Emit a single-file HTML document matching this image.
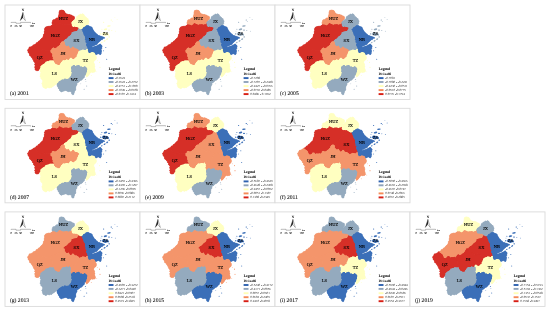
<!DOCTYPE html>
<html lang="en"><head><meta charset="utf-8"><title>IS Coeffi maps 2001-2019</title>
<style>html,body{margin:0;padding:0;background:#fff}svg{display:block}text{font-family:"Liberation Serif","Times New Roman",serif}</style></head><body>
<svg width="550" height="313" viewBox="0 0 5500 3130" text-rendering="geometricPrecision">
<rect width="5500" height="3130" fill="#fff"/>
<defs>
<path id="rHUZ" d="M525,242 521,236.9 516,232 520.1,224.4 515,217 520.8,214.8 524.2,209.5 524,205 524.8,197.5 530.7,194.8 538.7,195.5 544,192 552.7,189.6 554.1,183.4 558,178.6 565,176 573.1,176.3 580.4,169.6 580.3,165.6 582,159 582,152.8 586.3,149 585,144.8 588,138 586.7,132.6 590.8,126.5 586,120 589.4,114.3 590.5,109.3 593,103 600.8,102 606,96 612.5,98.4 620,97 623.4,100.7 630,102.3 637,101 637.1,106.3 640.3,110.1 646,117 645.7,122.5 651.1,127.9 658,131 662.7,136.9 666.5,140.7 672,139 677.8,142.2 682.2,143.1 691,142 695.8,142.7 703.7,146 711,148 719,152.4 723.3,157.7 732,159 737.3,161.8 742.7,166.2 740.8,171.2 741,176 741,184.8 738.7,192.9 733,195 727.4,198.2 726.7,203.3 724.9,207.7 718,211 715.7,216.1 712,222 712.2,228.6 708,233 704.1,238.5 698.7,240.8 695,239 691,241.8 685.5,245.6 677,245 671.2,240.7 665.5,240.6 660.3,238.3 653,242 648.4,240.1 641.1,242.5 635.3,241.6 632,246 625.5,246.5 619.8,240 615.6,236.5 611,238 604.7,235.8 598,230 589.3,229.5 583.8,232.1 584.9,238.2 578,243 573.3,244.5 569.5,249.9 559.4,252.6 553,247 544.8,243.8 536.6,243.5 529.3,242.8Z"/>
<path id="rJX" d="M718,211 722.6,206.4 728.7,205.4 732,204 740.3,201.1 741.5,196.5 745,192 748.9,191.7 753.5,188.4 758.1,184.9 757,180 759.1,174.5 760.5,168.1 764,161.9 774,163 773.6,157.2 775.4,153.5 783,149 789.9,147 796.1,143.4 796,138 803.3,138.1 812.8,140.8 818.3,137.6 824,134 828.6,137.4 832.9,139.1 836,145 839.4,147.2 842.3,151.8 837.4,157.5 839,162 845.3,161.3 847.5,165 854,163.5 857,167 859.7,171.2 863.9,175.4 869,180 873.2,183.9 878.3,184.9 876.5,190.4 882,196 884.1,200.1 881.9,205.8 887.3,211.8 885,217 882.4,224.7 884.4,230.5 880,237 876.6,242.8 875.1,248.2 869,250 864.4,250.7 859.6,252.8 851.9,256.7 849,265 842.2,265.5 835,268.6 830.3,270.6 828,278 823.1,283.2 818.1,288.8 813,290 806.3,290.9 801.9,292.5 797,287 789.3,285.1 782,282 780.5,274.8 776,273 769.7,271.8 766,266 759.8,267.3 753.9,269.4 750,266 744.4,263.2 739.8,266.9 735,266 728,266.3 722.9,263.4 720,262 717.7,257.9 715.9,253.9 711,248 714.2,240.5 712,235.2 708,233 712.2,228.6 712,222 715.7,216.1Z"/>
<path id="rHGZ" d="M339,446 344.9,440.4 351,438 359.3,433.5 359.2,425 365.9,423.5 372,422 378.8,417.8 380.1,409.5 388.3,407.3 393,405 397.5,397.1 402,392.8 407.5,387.1 414,380 419.1,376.5 425.8,371.2 429.3,357.6 432,350 430.9,342.3 437.9,337.3 440.9,330.7 438,325 442,321.1 440,315.1 441.2,307.5 445,300 443,293.5 441.6,289.6 441,284 446.3,282 450,276.7 449,268 454.5,269.4 459.7,269.2 463,263.2 470,263 477,261.6 478.4,256.5 484.4,261.9 495,259 500.2,259.3 506.7,256.5 507.8,251.5 515,250 519,245.7 525,242 529.3,242.8 536.6,243.5 544.8,243.8 553,247 559.4,252.6 569.5,249.9 573.3,244.5 578,243 584.9,238.2 583.8,232.1 589.3,229.5 598,230 604.7,235.8 611,238 615.6,236.5 619.8,240 625.5,246.5 632,246 635.3,241.6 641.1,242.5 648.4,240.1 653,242 660.3,238.3 665.5,240.6 671.2,240.7 677,245 685.5,245.6 691,241.8 695,239 698.7,240.8 704.1,238.5 708,233 712,235.2 714.2,240.5 711,248 715.9,253.9 717.7,257.9 720,262 722.9,263.4 728,266.3 735,266 739.8,266.9 744.4,263.2 750,266 753.9,269.4 759.8,267.3 766,266 769.7,271.8 776,273 780.5,274.8 782,282 778,286.6 776.8,292 772,298 772,303.2 768.4,306.9 760.5,307.2 755,308 752,312.5 744.8,313 739.7,312.3 735,313 729.1,317.8 722.4,319.1 714,319 714.3,327.3 714.2,332.2 710,336 706.5,341.1 705,348.2 697,352 692.4,356.5 684.7,360.3 681.2,362.5 681,369 674.3,370.1 671.7,377.7 664,381 660.9,387.6 654.3,388.3 649.8,388.1 647,394 641,397.5 635,404 632,412 627.2,409.5 619,412 614,413.8 608,416.4 606,425 603.2,427.3 599.1,431.6 601,438.3 594,446 587.5,449.6 586.3,455.5 580.1,459.3 577,462 571.2,464.6 567,463.5 564.1,473.8 556,475 551.9,478.7 549.1,481.4 546.1,479.6 540,479 535.5,474.2 530,473.1 527,471 524.5,476.4 516.2,479.7 514.6,487.7 519,491 514.1,490.6 506.9,494.2 501.9,499.9 503,506 498.5,503.6 494.3,498.9 489,496 482,501.6 476.7,499.9 472,501 467.2,498.5 463.6,497.5 460.4,500.4 455,505 449.6,500.8 444.6,497.8 440.8,493.8 439,488 433,490.6 428,488.8 422,492 417.2,496.6 414.4,503.1 410,505 402.5,509.6 398.8,510.4 393,509 386,507.6 382.3,500.2 381,492 376.4,488.2 374.6,478.6 372.3,474.5 368,471 362,466.9 358.7,462.9 351,459 345,455.1 341,453.3Z"/>
<path id="rSX" d="M632,412 635,404 641,397.5 647,394 649.8,388.1 654.3,388.3 660.9,387.6 664,381 671.7,377.7 674.3,370.1 681,369 681.2,362.5 684.7,360.3 692.4,356.5 697,352 705,348.2 706.5,341.1 710,336 714.2,332.2 714.3,327.3 714,319 722.4,319.1 729.1,317.8 735,313 739.7,312.3 744.8,313 752,312.5 755,308 760.5,307.2 768.4,306.9 772,303.2 772,298 776.8,292 778,286.6 782,282 789.3,285.1 797,287 801.9,292.5 806.3,290.9 813,290 814.4,295.8 823.1,299.2 820.5,303.5 822,311 824.7,315.5 828.7,322.8 832,331 831.1,336.5 834.7,342.1 836.1,350.1 843,352 842.1,357.6 848.5,364.3 849.4,368.9 846,373 849.7,379.1 849.5,383.8 847.9,390.5 843,393 852.5,396.9 853.7,403.9 853.8,411.1 851,415 853.7,421.8 862.2,423.7 864.3,431.6 859,440 858.6,446.7 861.8,453.9 864.5,461.7 871,464 868.9,469.5 870.5,473 874.3,479.8 873,487 865.6,488 860,490 857.6,496.9 847.4,499.2 840.7,495.8 835,494 826.7,495.5 822.1,491.4 818.6,496.7 810,500 804.1,503.8 796.7,500.7 794.3,504.3 790,510 787.8,502.7 784,499 778.8,493.1 771.7,489.4 768,487 764.3,483.3 759.6,482.8 752,483 744.5,480 739.4,478.1 739,470 733.6,467.2 727,462 723.7,464 719.6,467.8 715.1,473.1 710,478 705.2,481.2 701,479.1 697,476.1 693,472 690.8,467.1 688,461.6 683.2,455.6 681,452 676.3,456.6 672,459.8 665,460 659,456.2 654.3,456.6 653,448 649.4,443.4 644.9,442.4 643.3,438.3 645,432 644.5,424.6 642.5,415.5 638.2,413Z"/>
<path id="rNB" d="M813,290 818.1,288.8 823.1,283.2 828,278 830.3,270.6 835,268.6 842.2,265.5 849,265 851.9,256.7 859.6,252.8 864.4,250.7 869,250 874.2,251.1 877.7,253.8 885,253 891.4,258.3 891.5,264.2 896.1,263.2 904,264 913,267.7 918.4,271.9 921.5,278.8 920,285 926.5,290.4 928.6,295 930,300.1 935,304 936,308.1 937.3,315 942,315.5 948,321 954.5,326.3 958.4,330.5 960,337 965.1,339.9 969.5,339.4 973.2,345.7 977,352 984.5,352.7 990,351.1 994.1,357.6 998,360 1002,358.1 1007.7,361.7 1019,361.6 1023,368 1027.7,367 1034.9,370.5 1039.3,373.5 1046,375 1040,378.5 1036.2,379.4 1026.9,380.2 1023,390 1018.4,394.3 1010.3,392.1 1007.1,399.7 1002,403 998,404.8 994.4,411.4 988.5,413.1 986,416 984.2,420.6 979.2,423.7 973,428 970.9,432.2 969.6,438.5 961.8,441.9 955,441 951.7,446.5 944.5,449.7 938.4,451.4 935,453 930.1,458.8 924.5,457 918,462 914,469 921.1,469.9 926,469 931.3,467 936.5,464.1 942.5,462.7 946,461 954,458.1 961.8,458.7 966,452 974.7,450.9 979,447 986.7,445 992,440 997.4,436.7 1003,437 1002.9,444 1010,448 1017.2,453.7 1018.5,460.5 1015.5,465.6 1014,474 1014.9,481.1 1010.7,487.4 1007.7,493.3 1010,499 1012.5,506 1010.7,514.2 1009,523 1009.4,530.9 1004.8,536.6 1004,542 996,544 990.3,538.2 989,532 982,534 974,535 968.7,538.7 963,539 960.8,544 953,545 949.2,541.1 946,533 941.6,528.9 942.3,524.5 936,524 929.1,520.7 924.3,520.4 918,518 913.6,520.1 908.2,521.5 902,525 896.6,529.7 890.4,526.6 885,528 880.2,521 879.4,515.7 876,510 873.9,503.3 874.8,496.9 875.8,491.2 873,487 874.3,479.8 870.5,473 868.9,469.5 871,464 864.5,461.7 861.8,453.9 858.6,446.7 859,440 864.3,431.6 862.2,423.7 853.7,421.8 851,415 853.8,411.1 853.7,403.9 852.5,396.9 843,393 847.9,390.5 849.5,383.8 849.7,379.1 846,373 849.4,368.9 848.5,364.3 842.1,357.6 843,352 836.1,350.1 834.7,342.1 831.1,336.5 832,331 828.7,322.8 824.7,315.5 822,311 820.5,303.5 823.1,299.2 814.4,295.8Z"/>
<path id="rQZ" d="M395,686 389.5,690 389,695.1 382,696 381.5,702.3 376.4,704.2 370.2,702.9 362,703 356.2,699.7 351.8,698.7 347.4,691.8 348,684 348.8,676 342.7,668.8 346.9,661.5 352,655 345.3,648.5 343.5,639 347.8,633 346,625 342,619.9 336.9,615.3 330.6,605.3 335,596 327.3,593 321.8,588.9 321.6,583.5 322,575 315.3,575 311.4,571.4 311.1,565.8 306,559 301,557.9 293.8,553.7 292.8,546.9 293,542 289.7,536 288.9,529.3 281,525 278.2,521.3 279.3,515.4 276.9,511 275,505 272.7,499.1 274.3,495 278.9,490.8 285,484 286.2,475.1 289.7,470.2 296.8,464.2 306,467 311.9,461.5 317.1,462.2 322,455 328.7,453.1 330.2,444.1 334.4,447.9 339,446 341,453.3 345,455.1 351,459 358.7,462.9 362,466.9 368,471 372.3,474.5 374.6,478.6 376.4,488.2 381,492 382.3,500.2 386,507.6 393,509 398.8,510.4 402.5,509.6 410,505 414.4,503.1 417.2,496.6 422,492 428,488.8 433,490.6 439,488 440.8,493.8 444.6,497.8 449.6,500.8 455,505 460.4,500.4 463.6,497.5 467.2,498.5 472,501 476.7,499.9 482,501.6 489,496 494.3,498.9 498.5,503.6 503,506 503.2,510.6 502.5,515.7 506.2,523.3 511,525 515.9,530.9 519,538 523,541 520.2,545.2 519.1,551.4 522,557.9 519,562 523.9,565.6 527.1,574.3 524.2,577.6 523,583 530.1,584.6 532.1,590.6 532,599.2 536,604 531.9,603.5 526,602 520.1,601.8 513,602.6 505,602 499,601.2 495.3,601.2 490,604 485.2,604.9 483.3,610.9 475.4,607.9 468,613 463.3,614.6 458.2,612.7 451.5,616.6 451,625 442.5,628.4 442.2,634.6 438.3,635.7 431,637 427.2,639.4 423,642.2 420.2,646.7 414,650 409.2,654.6 404,657.2 402,664 400.9,671.9 404.5,675.3 399.1,680.6Z"/>
<path id="rJH" d="M503,506 501.9,499.9 506.9,494.2 514.1,490.6 519,491 514.6,487.7 516.2,479.7 524.5,476.4 527,471 530,473.1 535.5,474.2 540,479 546.1,479.6 549.1,481.4 551.9,478.7 556,475 564.1,473.8 567,463.5 571.2,464.6 577,462 580.1,459.3 586.3,455.5 587.5,449.6 594,446 601,438.3 599.1,431.6 603.2,427.3 606,425 608,416.4 614,413.8 619,412 627.2,409.5 632,412 638.2,413 642.5,415.5 644.5,424.6 645,432 643.3,438.3 644.9,442.4 649.4,443.4 653,448 654.3,456.6 659,456.2 665,460 672,459.8 676.3,456.6 681,452 683.2,455.6 688,461.6 690.8,467.1 693,472 697,476.1 701,479.1 705.2,481.2 710,478 715.1,473.1 719.6,467.8 723.7,464 727,462 733.6,467.2 739,470 739.4,478.1 744.5,480 752,483 759.6,482.8 764.3,483.3 768,487 771.7,489.4 778.8,493.1 784,499 787.8,502.7 790,510 783.3,510.3 780,517.9 777.7,523 777,529 773.2,535.7 768.3,541.4 773.6,544.7 773,550 768.3,549.1 762.7,553.5 766,560.6 760,570 753.7,571.2 750.2,574.8 741.8,580.2 743,587 735.6,587.6 733.9,592.2 729.8,586.3 723,587 720.2,584.1 714,582.2 710.4,575.4 706,574 700.1,578 695.8,580 694,586 689.1,588.9 687,595.4 681,598 676,596.8 667.6,593 659.1,593.1 656,598 648.2,597.6 642.5,601 635,600 628.7,598.4 621.9,603.7 619,612 615.7,613.9 609.7,615.9 606,623.8 606,629 602.4,631.1 597.8,633.2 598.2,638.6 594,644 590.9,648.4 583.1,646.7 578.2,648.4 573,649 571.4,644.5 566.2,639.3 560.1,641.1 556,641 553.1,635.8 546.7,632.3 544,624 539.6,622.9 536.3,616.2 534.1,609.5 536,604 532,599.2 532.1,590.6 530.1,584.6 523,583 524.2,577.6 527.1,574.3 523.9,565.6 519,562 522,557.9 519.1,551.4 520.2,545.2 523,541 519,538 515.9,530.9 511,525 506.2,523.3 502.5,515.7 503.2,510.6Z"/>
<path id="rTZ" d="M790,510 794.3,504.3 796.7,500.7 804.1,503.8 810,500 818.6,496.7 822.1,491.4 826.7,495.5 835,494 840.7,495.8 847.4,499.2 857.6,496.9 860,490 865.6,488 873,487 875.8,491.2 874.8,496.9 873.9,503.3 876,510 879.4,515.7 880.2,521 885,528 890.4,526.6 896.6,529.7 902,525 908.2,521.5 913.6,520.1 918,518 924.3,520.4 929.1,520.7 936,524 942.3,524.5 941.6,528.9 946,533 949.2,541.1 953,545 951.3,549.9 953.1,554 957,559 960.1,566 960.4,573.6 960,578 960.3,582.6 956.7,588.2 955.4,594.7 950,597 943.3,598.4 941.1,602 940.2,607.3 936,611 934,614.9 934.4,620.1 931,626 938.6,630.4 939.3,634.5 941,640 944.4,647.4 939.6,653.7 941.9,658.6 947,659 943.7,666.2 940.3,672.8 944.8,676.7 944,683 945.6,686.5 949,691.1 948.4,695.9 950,702 952.1,708.4 949.2,711.6 946.3,715.2 942,718 934.8,719.1 929.7,719 924,721 916.5,718.4 910,716 908.2,721.2 901.1,723 898,730 892,733.3 889.7,742.3 884,748 879.5,754.3 876,759.4 870,763 864.2,766.5 860,767 861.5,762.4 856.8,756.2 854.6,753.2 853,748 854.5,740.6 859,733.1 860,728 860.4,721.7 861.8,718.4 866.4,714.7 867,708 866.7,704.1 865.1,699.1 868.1,694.4 870,686 866.7,679.6 861.5,678 860.9,671.5 858,668 851.2,664.7 846.5,663 840,659 838.2,662.9 832.2,667.9 824.1,669.7 819,667 813.9,664.3 811.6,659.8 806.6,665.4 798,663 798.2,656.3 791.4,652.3 785,646 777.9,647.9 773,651.3 766.9,650.3 765,647 764.4,651.4 761.6,655.6 755.8,657.6 748,658 745.4,650 738,648.2 733.2,646.8 727,651 722.7,654.1 719.2,659.6 715,660 711.6,664.4 709.4,667.8 706.7,671.3 707,679 707.7,674.2 708,668 708.9,662.9 707.2,656.2 703.8,653.6 702,647 698.8,641.7 700.9,635.4 704.6,629.8 706,626 703.5,622.7 701.4,618.2 704,610.6 705,605 701.1,600.6 696.7,600.7 691.7,591.8 694,586 695.8,580 700.1,578 706,574 710.4,575.4 714,582.2 720.2,584.1 723,587 729.8,586.3 733.9,592.2 735.6,587.6 743,587 741.8,580.2 750.2,574.8 753.7,571.2 760,570 766,560.6 762.7,553.5 768.3,549.1 773,550 773.6,544.7 768.3,541.4 773.2,535.7 777,529 777.7,523 780,517.9 783.3,510.3Z"/>
<path id="rLS" d="M395,686 395.8,690.6 394.4,695.5 398.8,700.9 403,704 399.2,708.6 400.9,716.7 405.6,721.8 408,725 403.8,729.1 403.3,732.9 401.7,737 402,745 403.4,752.4 397.8,754.7 396,759 398.5,764.9 404,766.3 406,775 405.1,782.9 412.7,787.6 416,789.2 418,795 424.6,802.6 422.2,809.6 425.3,815.8 422,820 421.1,824.5 415.4,828.4 416.3,836.5 420,841 422.6,846.7 421,851.5 424.3,855.2 424,863 429.5,867.7 428.6,873.1 432.7,872.1 440,874 443.7,879 452.5,882.4 459,882.9 465,878 468,873.2 476.7,870 481.6,875.1 491,876 495.9,875.3 501.8,871.3 514.3,872.9 520,865 525.9,858.5 537.6,856.6 540,851.7 545,847 548.4,841.1 557.7,841 560.7,836.4 569,833 570.7,828.4 576.9,824 584,820 585.4,810.3 592.5,808.4 596.7,805.6 601,804 607,801.5 612.6,795.8 617.1,790.4 622,791 625.5,793.6 632.8,795.1 636.9,785.3 647,784 653.4,784.4 657.1,785.5 666.3,788.8 672,786 677,785.7 681.4,785.7 683.3,782.2 688,779 692.3,775.5 693.2,770.2 697.5,768.5 701,762 705.3,756.7 707,753.2 707.8,747 713,741 710.7,735.2 715.5,729.3 717,721 712.9,718.6 709.5,711.6 709.2,705.6 713,700 711.7,691.5 709.1,685.4 707,679 707.7,674.2 708,668 708.9,662.9 707.2,656.2 703.8,653.6 702,647 698.8,641.7 700.9,635.4 704.6,629.8 706,626 703.5,622.7 701.4,618.2 704,610.6 705,605 701.1,600.6 696.7,600.7 691.7,591.8 694,586 689.1,588.9 687,595.4 681,598 676,596.8 667.6,593 659.1,593.1 656,598 648.2,597.6 642.5,601 635,600 628.7,598.4 621.9,603.7 619,612 615.7,613.9 609.7,615.9 606,623.8 606,629 602.4,631.1 597.8,633.2 598.2,638.6 594,644 590.9,648.4 583.1,646.7 578.2,648.4 573,649 571.4,644.5 566.2,639.3 560.1,641.1 556,641 553.1,635.8 546.7,632.3 544,624 539.6,622.9 536.3,616.2 534.1,609.5 536,604 531.9,603.5 526,602 520.1,601.8 513,602.6 505,602 499,601.2 495.3,601.2 490,604 485.2,604.9 483.3,610.9 475.4,607.9 468,613 463.3,614.6 458.2,612.7 451.5,616.6 451,625 442.5,628.4 442.2,634.6 438.3,635.7 431,637 427.2,639.4 423,642.2 420.2,646.7 414,650 409.2,654.6 404,657.2 402,664 400.9,671.9 404.5,675.3 399.1,680.6Z"/>
<path id="rWZ" d="M707,679 706.7,671.3 709.4,667.8 711.6,664.4 715,660 719.2,659.6 722.7,654.1 727,651 733.2,646.8 738,648.2 745.4,650 748,658 755.8,657.6 761.6,655.6 764.4,651.4 765,647 766.9,650.3 773,651.3 777.9,647.9 785,646 791.4,652.3 798.2,656.3 798,663 806.6,665.4 811.6,659.8 813.9,664.3 819,667 824.1,669.7 832.2,667.9 838.2,662.9 840,659 846.5,663 851.2,664.7 858,668 860.9,671.5 861.5,678 866.7,679.6 870,686 868.1,694.4 865.1,699.1 866.7,704.1 867,708 866.4,714.7 861.8,718.4 860.4,721.7 860,728 859,733.1 854.5,740.6 853,748 846.4,749.2 840.6,754.8 841.5,762.8 840,768 839.2,773.4 834.8,775.8 828.5,778.3 825,786 822,790.3 814.7,792.8 812,799.5 805,800 800.4,802.9 795.4,805.1 792.1,810.1 785,818 777.8,821.6 767.5,826 766.3,830.7 766,838 766.4,844.4 763.2,849.9 756.8,856.9 756,864 753,873.9 753.4,882.3 754.5,888.2 754,894 752.9,899.7 744.8,904.1 741.8,908.7 742,915 738.8,925.4 736.2,931.6 737.6,938.6 734,942 726.7,940.9 721,943 714.2,937.4 714,929.4 711.6,922.1 714,918 711.5,914.9 704.9,915.1 699,909.9 694,910 688.2,913.5 678.7,913 669.4,909.9 661,904 654.1,901.9 647.9,903.2 639,905.6 628,910 620.1,910.8 614.6,915.9 605.4,912.9 598,908 594.6,903.5 590.8,899.7 591.3,890 584,884 578.5,879 579.5,872.8 573.7,862.6 568,858 569.8,852.4 568.8,844 566.8,837.9 569,833 570.7,828.4 576.9,824 584,820 585.4,810.3 592.5,808.4 596.7,805.6 601,804 607,801.5 612.6,795.8 617.1,790.4 622,791 625.5,793.6 632.8,795.1 636.9,785.3 647,784 653.4,784.4 657.1,785.5 666.3,788.8 672,786 677,785.7 681.4,785.7 683.3,782.2 688,779 692.3,775.5 693.2,770.2 697.5,768.5 701,762 705.3,756.7 707,753.2 707.8,747 713,741 710.7,735.2 715.5,729.3 717,721 712.9,718.6 709.5,711.6 709.2,705.6 713,700 711.7,691.5 709.1,685.4Z"/>
<g id="iZS">
<path d="M1012,336 1018.8,332.4 1022,324 1031.6,319.6 1038,320 1045.5,320.1 1055,323 1061.8,322.6 1072,328 1078.4,331 1086,336 1085.6,341.5 1089,346 1083.7,351.1 1078,354 1071.2,350.6 1062,352 1057.3,356.9 1050,358 1040.6,355.6 1035,354 1029.2,349 1024,349 1018.3,341.9Z"/>
<ellipse cx="1052" cy="290" rx="18" ry="9" transform="rotate(-12 1052 290)"/>
<ellipse cx="1087" cy="298" rx="10" ry="6"/>
<ellipse cx="1016" cy="290" rx="5" ry="5"/>
<ellipse cx="1115" cy="302" rx="6" ry="4"/>
<ellipse cx="1087" cy="257" rx="18" ry="7.5" transform="rotate(-8 1087 257)"/>
<ellipse cx="1033" cy="219" rx="6" ry="5"/>
<ellipse cx="1110" cy="198" rx="7" ry="5"/>
<ellipse cx="1120" cy="211" rx="5" ry="4"/>
<ellipse cx="1168" cy="194" rx="5" ry="4"/>
<ellipse cx="1146" cy="171" rx="4" ry="3"/>
<ellipse cx="1151" cy="309" rx="5" ry="4"/>
<ellipse cx="1004" cy="336" rx="6" ry="8"/>
<ellipse cx="1007" cy="309" rx="4" ry="4"/>
<ellipse cx="1089" cy="366" rx="8" ry="6"/>
<ellipse cx="1069" cy="388" rx="11" ry="7" transform="rotate(-35 1069 388)"/>
<ellipse cx="1043" cy="406" rx="11" ry="7" transform="rotate(-35 1043 406)"/>
<ellipse cx="1015" cy="422" rx="8" ry="5" transform="rotate(-30 1015 422)"/>
</g>
<g id="iNB">
<ellipse cx="1055" cy="472" rx="5" ry="5"/>
<ellipse cx="1032" cy="505" rx="4" ry="5"/>
<ellipse cx="1064" cy="589" rx="5" ry="5"/>
</g>
<g id="iTZ">
<ellipse cx="992" cy="620" rx="5" ry="6"/>
<ellipse cx="997" cy="671" rx="5" ry="6"/>
<ellipse cx="970" cy="602" rx="4" ry="4"/>
<ellipse cx="965" cy="715" rx="4" ry="4"/>
<ellipse cx="910" cy="752" rx="5" ry="4"/>
</g>
<g id="iWZ">
<ellipse cx="851" cy="792" rx="5" ry="5"/>
<ellipse cx="856" cy="811" rx="4" ry="4"/>
<ellipse cx="864" cy="857" rx="5" ry="5"/>
<ellipse cx="838" cy="890" rx="5" ry="5"/>
<ellipse cx="805" cy="835" rx="4" ry="4"/>
</g>
</defs>
<g transform="translate(0 0)">
<rect x="50" y="50" width="1350" height="945" fill="#fff" stroke="#dadada" stroke-width="9"/>
<g transform="translate(3 3)">
<g stroke-width="6" stroke-linejoin="round">
<use href="#rHUZ" fill="#d62f27" stroke="#d62f27"/>
<use href="#rJX" fill="#ffffc1" stroke="#ffffc1"/>
<use href="#rHGZ" fill="#d62f27" stroke="#d62f27"/>
<use href="#rSX" fill="#94aabe" stroke="#94aabe"/>
<use href="#rNB" fill="#3b6fb8" stroke="#3b6fb8"/>
<use href="#rQZ" fill="#d62f27" stroke="#d62f27"/>
<use href="#rJH" fill="#f4956b" stroke="#f4956b"/>
<use href="#rTZ" fill="#ffffc1" stroke="#ffffc1"/>
<use href="#rLS" fill="#ffffc1" stroke="#ffffc1"/>
<use href="#rWZ" fill="#94aabe" stroke="#94aabe"/>
</g><g>
<use href="#rHUZ" fill="#d62f27"/>
<use href="#rJX" fill="#ffffc1"/>
<use href="#rHGZ" fill="#d62f27"/>
<use href="#rSX" fill="#94aabe"/>
<use href="#rNB" fill="#3b6fb8"/>
<use href="#rQZ" fill="#d62f27"/>
<use href="#rJH" fill="#f4956b"/>
<use href="#rTZ" fill="#ffffc1"/>
<use href="#rLS" fill="#ffffc1"/>
<use href="#rWZ" fill="#94aabe"/>
</g>
<use href="#iZS" fill="#ffffc1"/>
<use href="#iNB" fill="#3b6fb8"/>
<use href="#iTZ" fill="#ffffc1"/>
<use href="#iWZ" fill="#94aabe"/>
</g>
<g>
<path d="M229,125 L202,207 L231,172 Z" fill="#111" stroke="#111" stroke-width="2"/>
<path d="M229,125 L254,206 L229,178 Z" fill="#fff" stroke="#111" stroke-width="3"/>
<text x="229" y="110" font-size="34" font-weight="bold" text-anchor="middle" fill="#000">N</text>
<path d="M111,229 V224 H160 V233 H206 V224 H305 V231" fill="none" stroke="#555" stroke-width="4"/>
<g font-size="28" fill="#111" stroke="#111" stroke-width="0.8" text-anchor="middle"><text x="111" y="273">0</text><text x="160" y="273">25</text><text x="206" y="273">50</text><text x="317" y="273">100</text><text x="335" y="238" font-size="22">km</text></g>
</g>
<g font-size="45" fill="#000" stroke="#000" stroke-width="1.0" text-anchor="middle">
<text x="637" y="195.7">HUZ</text>
<text x="806" y="232.7">JX</text>
<text x="553" y="369.7">HGZ</text>
<text x="765" y="422.7">SX</text>
<text x="918" y="406.7">NB</text>
<text x="1055" y="354.7">ZS</text>
<text x="398" y="587.7">QZ</text>
<text x="629" y="545.7">JH</text>
<text x="855" y="623.7">TZ</text>
<text x="544" y="748.7">LS</text>
<text x="742" y="812.7">WZ</text>
</g>
<text x="99" y="949" font-size="56" fill="#111" stroke="#111" stroke-width="0.8">(a) 2001</text>
<g fill="#111"><text x="1087" y="698" font-size="36" font-weight="bold" stroke="#111" stroke-width="0.8">Legend</text><text x="1087" y="750" font-size="32" font-weight="bold" stroke="#111" stroke-width="0.8">IS Coeffi</text></g>
<rect x="1086" y="771.5" width="49" height="19" fill="#2f62b0"/>
<text x="1153" y="789.5" font-size="32" fill="#333" stroke="#333" stroke-width="0.25">-0.6523</text>
<rect x="1086" y="810.5" width="49" height="19" fill="#8fa3ba"/>
<text x="1153" y="828.5" font-size="32" fill="#333" stroke="#333" stroke-width="0.25">-0.6522 - -0.2752</text>
<rect x="1086" y="851.5" width="49" height="19" fill="#ffffb8"/>
<text x="1153" y="869.5" font-size="32" fill="#333" stroke="#333" stroke-width="0.25">-0.2751 - -0.1050</text>
<rect x="1086" y="891.5" width="49" height="19" fill="#f58a58"/>
<text x="1153" y="909.5" font-size="32" fill="#333" stroke="#333" stroke-width="0.25">-0.1049 - -0.0108</text>
<rect x="1086" y="931.5" width="49" height="19" fill="#d81e14"/>
<text x="1153" y="949.5" font-size="32" fill="#333" stroke="#333" stroke-width="0.25">-0.0107 -0.1414</text>
</g>
<g transform="translate(1350 0)">
<rect x="50" y="50" width="1350" height="945" fill="#fff" stroke="#dadada" stroke-width="9"/>
<g transform="translate(3 3)">
<g stroke-width="6" stroke-linejoin="round">
<use href="#rHUZ" fill="#f4956b" stroke="#f4956b"/>
<use href="#rJX" fill="#94aabe" stroke="#94aabe"/>
<use href="#rHGZ" fill="#d62f27" stroke="#d62f27"/>
<use href="#rSX" fill="#94aabe" stroke="#94aabe"/>
<use href="#rNB" fill="#3b6fb8" stroke="#3b6fb8"/>
<use href="#rQZ" fill="#d62f27" stroke="#d62f27"/>
<use href="#rJH" fill="#f4956b" stroke="#f4956b"/>
<use href="#rTZ" fill="#ffffc1" stroke="#ffffc1"/>
<use href="#rLS" fill="#ffffc1" stroke="#ffffc1"/>
<use href="#rWZ" fill="#94aabe" stroke="#94aabe"/>
</g><g>
<use href="#rHUZ" fill="#f4956b"/>
<use href="#rJX" fill="#94aabe"/>
<use href="#rHGZ" fill="#d62f27"/>
<use href="#rSX" fill="#94aabe"/>
<use href="#rNB" fill="#3b6fb8"/>
<use href="#rQZ" fill="#d62f27"/>
<use href="#rJH" fill="#f4956b"/>
<use href="#rTZ" fill="#ffffc1"/>
<use href="#rLS" fill="#ffffc1"/>
<use href="#rWZ" fill="#94aabe"/>
</g>
<use href="#iZS" fill="#94aabe"/>
<use href="#iNB" fill="#3b6fb8"/>
<use href="#iTZ" fill="#ffffc1"/>
<use href="#iWZ" fill="#94aabe"/>
</g>
<g>
<path d="M229,125 L202,207 L231,172 Z" fill="#111" stroke="#111" stroke-width="2"/>
<path d="M229,125 L254,206 L229,178 Z" fill="#fff" stroke="#111" stroke-width="3"/>
<text x="229" y="110" font-size="34" font-weight="bold" text-anchor="middle" fill="#000">N</text>
<path d="M111,229 V224 H160 V233 H206 V224 H305 V231" fill="none" stroke="#555" stroke-width="4"/>
<g font-size="28" fill="#111" stroke="#111" stroke-width="0.8" text-anchor="middle"><text x="111" y="273">0</text><text x="160" y="273">25</text><text x="206" y="273">50</text><text x="317" y="273">100</text><text x="335" y="238" font-size="22">km</text></g>
</g>
<g font-size="45" fill="#000" stroke="#000" stroke-width="1.0" text-anchor="middle">
<text x="637" y="195.7">HUZ</text>
<text x="806" y="232.7">JX</text>
<text x="553" y="369.7">HGZ</text>
<text x="765" y="422.7">SX</text>
<text x="918" y="406.7">NB</text>
<text x="1055" y="354.7">ZS</text>
<text x="398" y="587.7">QZ</text>
<text x="629" y="545.7">JH</text>
<text x="855" y="623.7">TZ</text>
<text x="544" y="748.7">LS</text>
<text x="742" y="812.7">WZ</text>
</g>
<text x="99" y="949" font-size="56" fill="#111" stroke="#111" stroke-width="0.8">(b) 2003</text>
<g fill="#111"><text x="1087" y="698" font-size="36" font-weight="bold" stroke="#111" stroke-width="0.8">Legend</text><text x="1087" y="750" font-size="32" font-weight="bold" stroke="#111" stroke-width="0.8">IS Coeffi</text></g>
<rect x="1086" y="771.5" width="49" height="19" fill="#2f62b0"/>
<text x="1153" y="789.5" font-size="32" fill="#333" stroke="#333" stroke-width="0.25">-0.7208</text>
<rect x="1086" y="810.5" width="49" height="19" fill="#8fa3ba"/>
<text x="1153" y="828.5" font-size="32" fill="#333" stroke="#333" stroke-width="0.25">-0.7207 - -0.2428</text>
<rect x="1086" y="851.5" width="49" height="19" fill="#ffffb8"/>
<text x="1153" y="869.5" font-size="32" fill="#333" stroke="#333" stroke-width="0.25">-0.2427 - -0.0766</text>
<rect x="1086" y="891.5" width="49" height="19" fill="#f58a58"/>
<text x="1153" y="909.5" font-size="32" fill="#333" stroke="#333" stroke-width="0.25">-0.0765 -0.0485</text>
<rect x="1086" y="931.5" width="49" height="19" fill="#d81e14"/>
<text x="1153" y="949.5" font-size="32" fill="#333" stroke="#333" stroke-width="0.25">0.0486 - 0.1692</text>
</g>
<g transform="translate(2700 0)">
<rect x="50" y="50" width="1350" height="945" fill="#fff" stroke="#dadada" stroke-width="9"/>
<g transform="translate(3 3)">
<g stroke-width="6" stroke-linejoin="round">
<use href="#rHUZ" fill="#f4956b" stroke="#f4956b"/>
<use href="#rJX" fill="#94aabe" stroke="#94aabe"/>
<use href="#rHGZ" fill="#d62f27" stroke="#d62f27"/>
<use href="#rSX" fill="#94aabe" stroke="#94aabe"/>
<use href="#rNB" fill="#3b6fb8" stroke="#3b6fb8"/>
<use href="#rQZ" fill="#d62f27" stroke="#d62f27"/>
<use href="#rJH" fill="#f4956b" stroke="#f4956b"/>
<use href="#rTZ" fill="#ffffc1" stroke="#ffffc1"/>
<use href="#rLS" fill="#ffffc1" stroke="#ffffc1"/>
<use href="#rWZ" fill="#94aabe" stroke="#94aabe"/>
</g><g>
<use href="#rHUZ" fill="#f4956b"/>
<use href="#rJX" fill="#94aabe"/>
<use href="#rHGZ" fill="#d62f27"/>
<use href="#rSX" fill="#94aabe"/>
<use href="#rNB" fill="#3b6fb8"/>
<use href="#rQZ" fill="#d62f27"/>
<use href="#rJH" fill="#f4956b"/>
<use href="#rTZ" fill="#ffffc1"/>
<use href="#rLS" fill="#ffffc1"/>
<use href="#rWZ" fill="#94aabe"/>
</g>
<use href="#iZS" fill="#94aabe"/>
<use href="#iNB" fill="#3b6fb8"/>
<use href="#iTZ" fill="#ffffc1"/>
<use href="#iWZ" fill="#94aabe"/>
</g>
<g>
<path d="M229,125 L202,207 L231,172 Z" fill="#111" stroke="#111" stroke-width="2"/>
<path d="M229,125 L254,206 L229,178 Z" fill="#fff" stroke="#111" stroke-width="3"/>
<text x="229" y="110" font-size="34" font-weight="bold" text-anchor="middle" fill="#000">N</text>
<path d="M111,229 V224 H160 V233 H206 V224 H305 V231" fill="none" stroke="#555" stroke-width="4"/>
<g font-size="28" fill="#111" stroke="#111" stroke-width="0.8" text-anchor="middle"><text x="111" y="273">0</text><text x="160" y="273">25</text><text x="206" y="273">50</text><text x="317" y="273">100</text><text x="335" y="238" font-size="22">km</text></g>
</g>
<g font-size="45" fill="#000" stroke="#000" stroke-width="1.0" text-anchor="middle">
<text x="637" y="195.7">HUZ</text>
<text x="806" y="232.7">JX</text>
<text x="553" y="369.7">HGZ</text>
<text x="765" y="422.7">SX</text>
<text x="918" y="406.7">NB</text>
<text x="1055" y="354.7">ZS</text>
<text x="398" y="587.7">QZ</text>
<text x="629" y="545.7">JH</text>
<text x="855" y="623.7">TZ</text>
<text x="544" y="748.7">LS</text>
<text x="742" y="812.7">WZ</text>
</g>
<text x="99" y="949" font-size="56" fill="#111" stroke="#111" stroke-width="0.8">(c) 2005</text>
<g fill="#111"><text x="1087" y="698" font-size="36" font-weight="bold" stroke="#111" stroke-width="0.8">Legend</text><text x="1087" y="750" font-size="32" font-weight="bold" stroke="#111" stroke-width="0.8">IS Coeffi</text></g>
<rect x="1086" y="771.5" width="49" height="19" fill="#2f62b0"/>
<text x="1153" y="789.5" font-size="32" fill="#333" stroke="#333" stroke-width="0.25">-0.7081</text>
<rect x="1086" y="810.5" width="49" height="19" fill="#8fa3ba"/>
<text x="1153" y="828.5" font-size="32" fill="#333" stroke="#333" stroke-width="0.25">-0.7080 - -0.2231</text>
<rect x="1086" y="851.5" width="49" height="19" fill="#ffffb8"/>
<text x="1153" y="869.5" font-size="32" fill="#333" stroke="#333" stroke-width="0.25">-0.2230 - -0.0511</text>
<rect x="1086" y="891.5" width="49" height="19" fill="#f58a58"/>
<text x="1153" y="909.5" font-size="32" fill="#333" stroke="#333" stroke-width="0.25">-0.0510 -0.0775</text>
<rect x="1086" y="931.5" width="49" height="19" fill="#d81e14"/>
<text x="1153" y="949.5" font-size="32" fill="#333" stroke="#333" stroke-width="0.25">0.0776 -0.1794</text>
</g>
<g transform="translate(0 1033)">
<rect x="50" y="50" width="1350" height="945" fill="#fff" stroke="#dadada" stroke-width="9"/>
<g transform="translate(3 3)">
<g stroke-width="6" stroke-linejoin="round">
<use href="#rHUZ" fill="#f4956b" stroke="#f4956b"/>
<use href="#rJX" fill="#94aabe" stroke="#94aabe"/>
<use href="#rHGZ" fill="#d62f27" stroke="#d62f27"/>
<use href="#rSX" fill="#ffffc1" stroke="#ffffc1"/>
<use href="#rNB" fill="#3b6fb8" stroke="#3b6fb8"/>
<use href="#rQZ" fill="#d62f27" stroke="#d62f27"/>
<use href="#rJH" fill="#f4956b" stroke="#f4956b"/>
<use href="#rTZ" fill="#ffffc1" stroke="#ffffc1"/>
<use href="#rLS" fill="#ffffc1" stroke="#ffffc1"/>
<use href="#rWZ" fill="#94aabe" stroke="#94aabe"/>
</g><g>
<use href="#rHUZ" fill="#f4956b"/>
<use href="#rJX" fill="#94aabe"/>
<use href="#rHGZ" fill="#d62f27"/>
<use href="#rSX" fill="#ffffc1"/>
<use href="#rNB" fill="#3b6fb8"/>
<use href="#rQZ" fill="#d62f27"/>
<use href="#rJH" fill="#f4956b"/>
<use href="#rTZ" fill="#ffffc1"/>
<use href="#rLS" fill="#ffffc1"/>
<use href="#rWZ" fill="#94aabe"/>
</g>
<use href="#iZS" fill="#3b6fb8"/>
<use href="#iNB" fill="#3b6fb8"/>
<use href="#iTZ" fill="#ffffc1"/>
<use href="#iWZ" fill="#94aabe"/>
</g>
<g>
<path d="M229,125 L202,207 L231,172 Z" fill="#111" stroke="#111" stroke-width="2"/>
<path d="M229,125 L254,206 L229,178 Z" fill="#fff" stroke="#111" stroke-width="3"/>
<text x="229" y="110" font-size="34" font-weight="bold" text-anchor="middle" fill="#000">N</text>
<path d="M111,229 V224 H160 V233 H206 V224 H305 V231" fill="none" stroke="#555" stroke-width="4"/>
<g font-size="28" fill="#111" stroke="#111" stroke-width="0.8" text-anchor="middle"><text x="111" y="273">0</text><text x="160" y="273">25</text><text x="206" y="273">50</text><text x="317" y="273">100</text><text x="335" y="238" font-size="22">km</text></g>
</g>
<g font-size="45" fill="#000" stroke="#000" stroke-width="1.0" text-anchor="middle">
<text x="637" y="195.7">HUZ</text>
<text x="806" y="232.7">JX</text>
<text x="553" y="369.7">HGZ</text>
<text x="765" y="422.7">SX</text>
<text x="918" y="406.7">NB</text>
<text x="1055" y="354.7">ZS</text>
<text x="398" y="587.7">QZ</text>
<text x="629" y="545.7">JH</text>
<text x="855" y="623.7">TZ</text>
<text x="544" y="748.7">LS</text>
<text x="742" y="812.7">WZ</text>
</g>
<text x="99" y="954" font-size="56" fill="#111" stroke="#111" stroke-width="0.8">(d) 2007</text>
<g fill="#111"><text x="1087" y="698" font-size="36" font-weight="bold" stroke="#111" stroke-width="0.8">Legend</text><text x="1087" y="750" font-size="32" font-weight="bold" stroke="#111" stroke-width="0.8">IS Coeffi</text></g>
<rect x="1086" y="771.5" width="49" height="19" fill="#2f62b0"/>
<text x="1153" y="789.5" font-size="32" fill="#333" stroke="#333" stroke-width="0.25">-0.6455 - -0.4396</text>
<rect x="1086" y="810.5" width="49" height="19" fill="#8fa3ba"/>
<text x="1153" y="828.5" font-size="32" fill="#333" stroke="#333" stroke-width="0.25">-0.4395 - -0.1297</text>
<rect x="1086" y="851.5" width="49" height="19" fill="#ffffb8"/>
<text x="1153" y="869.5" font-size="32" fill="#333" stroke="#333" stroke-width="0.25">-0.1296 -0.0095</text>
<rect x="1086" y="891.5" width="49" height="19" fill="#f58a58"/>
<text x="1153" y="909.5" font-size="32" fill="#333" stroke="#333" stroke-width="0.25">0.0096 -0.0886</text>
<rect x="1086" y="931.5" width="49" height="19" fill="#d81e14"/>
<text x="1153" y="949.5" font-size="32" fill="#333" stroke="#333" stroke-width="0.25">0.0887 -0.2112</text>
</g>
<g transform="translate(1350 1033)">
<rect x="50" y="50" width="1350" height="945" fill="#fff" stroke="#dadada" stroke-width="9"/>
<g transform="translate(3 3)">
<g stroke-width="6" stroke-linejoin="round">
<use href="#rHUZ" fill="#f4956b" stroke="#f4956b"/>
<use href="#rJX" fill="#ffffc1" stroke="#ffffc1"/>
<use href="#rHGZ" fill="#d62f27" stroke="#d62f27"/>
<use href="#rSX" fill="#f4956b" stroke="#f4956b"/>
<use href="#rNB" fill="#3b6fb8" stroke="#3b6fb8"/>
<use href="#rQZ" fill="#d62f27" stroke="#d62f27"/>
<use href="#rJH" fill="#f4956b" stroke="#f4956b"/>
<use href="#rTZ" fill="#f4956b" stroke="#f4956b"/>
<use href="#rLS" fill="#ffffc1" stroke="#ffffc1"/>
<use href="#rWZ" fill="#94aabe" stroke="#94aabe"/>
</g><g>
<use href="#rHUZ" fill="#f4956b"/>
<use href="#rJX" fill="#ffffc1"/>
<use href="#rHGZ" fill="#d62f27"/>
<use href="#rSX" fill="#f4956b"/>
<use href="#rNB" fill="#3b6fb8"/>
<use href="#rQZ" fill="#d62f27"/>
<use href="#rJH" fill="#f4956b"/>
<use href="#rTZ" fill="#f4956b"/>
<use href="#rLS" fill="#ffffc1"/>
<use href="#rWZ" fill="#94aabe"/>
</g>
<use href="#iZS" fill="#3b6fb8"/>
<use href="#iNB" fill="#3b6fb8"/>
<use href="#iTZ" fill="#f4956b"/>
<use href="#iWZ" fill="#94aabe"/>
</g>
<g>
<path d="M229,125 L202,207 L231,172 Z" fill="#111" stroke="#111" stroke-width="2"/>
<path d="M229,125 L254,206 L229,178 Z" fill="#fff" stroke="#111" stroke-width="3"/>
<text x="229" y="110" font-size="34" font-weight="bold" text-anchor="middle" fill="#000">N</text>
<path d="M111,229 V224 H160 V233 H206 V224 H305 V231" fill="none" stroke="#555" stroke-width="4"/>
<g font-size="28" fill="#111" stroke="#111" stroke-width="0.8" text-anchor="middle"><text x="111" y="273">0</text><text x="160" y="273">25</text><text x="206" y="273">50</text><text x="317" y="273">100</text><text x="335" y="238" font-size="22">km</text></g>
</g>
<g font-size="45" fill="#000" stroke="#000" stroke-width="1.0" text-anchor="middle">
<text x="637" y="195.7">HUZ</text>
<text x="806" y="232.7">JX</text>
<text x="553" y="369.7">HGZ</text>
<text x="765" y="422.7">SX</text>
<text x="918" y="406.7">NB</text>
<text x="1055" y="354.7">ZS</text>
<text x="398" y="587.7">QZ</text>
<text x="629" y="545.7">JH</text>
<text x="855" y="623.7">TZ</text>
<text x="544" y="748.7">LS</text>
<text x="742" y="812.7">WZ</text>
</g>
<text x="99" y="954" font-size="56" fill="#111" stroke="#111" stroke-width="0.8">(e) 2009</text>
<g fill="#111"><text x="1087" y="698" font-size="36" font-weight="bold" stroke="#111" stroke-width="0.8">Legend</text><text x="1087" y="750" font-size="32" font-weight="bold" stroke="#111" stroke-width="0.8">IS Coeffi</text></g>
<rect x="1086" y="771.5" width="49" height="19" fill="#2f62b0"/>
<text x="1153" y="789.5" font-size="32" fill="#333" stroke="#333" stroke-width="0.25">-0.5687 - -0.4629</text>
<rect x="1086" y="810.5" width="49" height="19" fill="#8fa3ba"/>
<text x="1153" y="828.5" font-size="32" fill="#333" stroke="#333" stroke-width="0.25">-0.4628 - -0.2458</text>
<rect x="1086" y="851.5" width="49" height="19" fill="#ffffb8"/>
<text x="1153" y="869.5" font-size="32" fill="#333" stroke="#333" stroke-width="0.25">-0.2457 - -0.0052</text>
<rect x="1086" y="891.5" width="49" height="19" fill="#f58a58"/>
<text x="1153" y="909.5" font-size="32" fill="#333" stroke="#333" stroke-width="0.25">-0.0051 -0.1307</text>
<rect x="1086" y="931.5" width="49" height="19" fill="#d81e14"/>
<text x="1153" y="949.5" font-size="32" fill="#333" stroke="#333" stroke-width="0.25">0.1308 -0.2349</text>
</g>
<g transform="translate(2700 1033)">
<rect x="50" y="50" width="1350" height="945" fill="#fff" stroke="#dadada" stroke-width="9"/>
<g transform="translate(3 3)">
<g stroke-width="6" stroke-linejoin="round">
<use href="#rHUZ" fill="#ffffc1" stroke="#ffffc1"/>
<use href="#rJX" fill="#ffffc1" stroke="#ffffc1"/>
<use href="#rHGZ" fill="#d62f27" stroke="#d62f27"/>
<use href="#rSX" fill="#d62f27" stroke="#d62f27"/>
<use href="#rNB" fill="#3b6fb8" stroke="#3b6fb8"/>
<use href="#rQZ" fill="#f4956b" stroke="#f4956b"/>
<use href="#rJH" fill="#f4956b" stroke="#f4956b"/>
<use href="#rTZ" fill="#f4956b" stroke="#f4956b"/>
<use href="#rLS" fill="#ffffc1" stroke="#ffffc1"/>
<use href="#rWZ" fill="#94aabe" stroke="#94aabe"/>
</g><g>
<use href="#rHUZ" fill="#ffffc1"/>
<use href="#rJX" fill="#ffffc1"/>
<use href="#rHGZ" fill="#d62f27"/>
<use href="#rSX" fill="#d62f27"/>
<use href="#rNB" fill="#3b6fb8"/>
<use href="#rQZ" fill="#f4956b"/>
<use href="#rJH" fill="#f4956b"/>
<use href="#rTZ" fill="#f4956b"/>
<use href="#rLS" fill="#ffffc1"/>
<use href="#rWZ" fill="#94aabe"/>
</g>
<use href="#iZS" fill="#3b6fb8"/>
<use href="#iNB" fill="#3b6fb8"/>
<use href="#iTZ" fill="#f4956b"/>
<use href="#iWZ" fill="#94aabe"/>
</g>
<g>
<path d="M229,125 L202,207 L231,172 Z" fill="#111" stroke="#111" stroke-width="2"/>
<path d="M229,125 L254,206 L229,178 Z" fill="#fff" stroke="#111" stroke-width="3"/>
<text x="229" y="110" font-size="34" font-weight="bold" text-anchor="middle" fill="#000">N</text>
<path d="M111,229 V224 H160 V233 H206 V224 H305 V231" fill="none" stroke="#555" stroke-width="4"/>
<g font-size="28" fill="#111" stroke="#111" stroke-width="0.8" text-anchor="middle"><text x="111" y="273">0</text><text x="160" y="273">25</text><text x="206" y="273">50</text><text x="317" y="273">100</text><text x="335" y="238" font-size="22">km</text></g>
</g>
<g font-size="45" fill="#000" stroke="#000" stroke-width="1.0" text-anchor="middle">
<text x="637" y="195.7">HUZ</text>
<text x="806" y="232.7">JX</text>
<text x="553" y="369.7">HGZ</text>
<text x="765" y="422.7">SX</text>
<text x="918" y="406.7">NB</text>
<text x="1055" y="354.7">ZS</text>
<text x="398" y="587.7">QZ</text>
<text x="629" y="545.7">JH</text>
<text x="855" y="623.7">TZ</text>
<text x="544" y="748.7">LS</text>
<text x="742" y="812.7">WZ</text>
</g>
<text x="99" y="954" font-size="56" fill="#111" stroke="#111" stroke-width="0.8">(f) 2011</text>
<g fill="#111"><text x="1087" y="698" font-size="36" font-weight="bold" stroke="#111" stroke-width="0.8">Legend</text><text x="1087" y="750" font-size="32" font-weight="bold" stroke="#111" stroke-width="0.8">IS Coeffi</text></g>
<rect x="1086" y="771.5" width="49" height="19" fill="#2f62b0"/>
<text x="1153" y="789.5" font-size="32" fill="#333" stroke="#333" stroke-width="0.25">-0.5090 - -0.4666</text>
<rect x="1086" y="810.5" width="49" height="19" fill="#8fa3ba"/>
<text x="1153" y="828.5" font-size="32" fill="#333" stroke="#333" stroke-width="0.25">-0.4665 - -0.2698</text>
<rect x="1086" y="851.5" width="49" height="19" fill="#ffffb8"/>
<text x="1153" y="869.5" font-size="32" fill="#333" stroke="#333" stroke-width="0.25">-0.2697 -0.0747</text>
<rect x="1086" y="891.5" width="49" height="19" fill="#f58a58"/>
<text x="1153" y="909.5" font-size="32" fill="#333" stroke="#333" stroke-width="0.25">0.0748 -0.2066</text>
<rect x="1086" y="931.5" width="49" height="19" fill="#d81e14"/>
<text x="1153" y="949.5" font-size="32" fill="#333" stroke="#333" stroke-width="0.25">0.2067 -0.2885</text>
</g>
<g transform="translate(0 2069)">
<rect x="50" y="50" width="1350" height="945" fill="#fff" stroke="#dadada" stroke-width="9"/>
<g transform="translate(3 3)">
<g stroke-width="6" stroke-linejoin="round">
<use href="#rHUZ" fill="#94aabe" stroke="#94aabe"/>
<use href="#rJX" fill="#ffffc1" stroke="#ffffc1"/>
<use href="#rHGZ" fill="#f4956b" stroke="#f4956b"/>
<use href="#rSX" fill="#d62f27" stroke="#d62f27"/>
<use href="#rNB" fill="#3b6fb8" stroke="#3b6fb8"/>
<use href="#rQZ" fill="#f4956b" stroke="#f4956b"/>
<use href="#rJH" fill="#f4956b" stroke="#f4956b"/>
<use href="#rTZ" fill="#f4956b" stroke="#f4956b"/>
<use href="#rLS" fill="#94aabe" stroke="#94aabe"/>
<use href="#rWZ" fill="#3b6fb8" stroke="#3b6fb8"/>
</g><g>
<use href="#rHUZ" fill="#94aabe"/>
<use href="#rJX" fill="#ffffc1"/>
<use href="#rHGZ" fill="#f4956b"/>
<use href="#rSX" fill="#d62f27"/>
<use href="#rNB" fill="#3b6fb8"/>
<use href="#rQZ" fill="#f4956b"/>
<use href="#rJH" fill="#f4956b"/>
<use href="#rTZ" fill="#f4956b"/>
<use href="#rLS" fill="#94aabe"/>
<use href="#rWZ" fill="#3b6fb8"/>
</g>
<use href="#iZS" fill="#3b6fb8"/>
<use href="#iNB" fill="#3b6fb8"/>
<use href="#iTZ" fill="#f4956b"/>
<use href="#iWZ" fill="#3b6fb8"/>
</g>
<g>
<path d="M229,125 L202,207 L231,172 Z" fill="#111" stroke="#111" stroke-width="2"/>
<path d="M229,125 L254,206 L229,178 Z" fill="#fff" stroke="#111" stroke-width="3"/>
<text x="229" y="110" font-size="34" font-weight="bold" text-anchor="middle" fill="#000">N</text>
<path d="M111,229 V224 H160 V233 H206 V224 H305 V231" fill="none" stroke="#555" stroke-width="4"/>
<g font-size="28" fill="#111" stroke="#111" stroke-width="0.8" text-anchor="middle"><text x="111" y="273">0</text><text x="160" y="273">25</text><text x="206" y="273">50</text><text x="317" y="273">100</text><text x="335" y="238" font-size="22">km</text></g>
</g>
<g font-size="45" fill="#000" stroke="#000" stroke-width="1.0" text-anchor="middle">
<text x="637" y="195.7">HUZ</text>
<text x="806" y="232.7">JX</text>
<text x="553" y="369.7">HGZ</text>
<text x="765" y="422.7">SX</text>
<text x="918" y="406.7">NB</text>
<text x="1055" y="354.7">ZS</text>
<text x="398" y="587.7">QZ</text>
<text x="629" y="545.7">JH</text>
<text x="855" y="623.7">TZ</text>
<text x="544" y="748.7">LS</text>
<text x="742" y="812.7">WZ</text>
</g>
<text x="99" y="949" font-size="56" fill="#111" stroke="#111" stroke-width="0.8">(g) 2013</text>
<g fill="#111"><text x="1087" y="704" font-size="36" font-weight="bold" stroke="#111" stroke-width="0.8">Legend</text><text x="1087" y="753" font-size="32" font-weight="bold" stroke="#111" stroke-width="0.8">IS Coeffi</text></g>
<rect x="1086" y="771.5" width="49" height="19" fill="#2f62b0"/>
<text x="1153" y="789.5" font-size="32" fill="#333" stroke="#333" stroke-width="0.25">-0.4905 - -0.3272</text>
<rect x="1086" y="810.5" width="49" height="19" fill="#8fa3ba"/>
<text x="1153" y="828.5" font-size="32" fill="#333" stroke="#333" stroke-width="0.25">-0.3271 -0.0420</text>
<rect x="1086" y="853.5" width="49" height="19" fill="#ffffb8"/>
<text x="1153" y="871.5" font-size="32" fill="#333" stroke="#333" stroke-width="0.25">0.0421 -0.0907</text>
<rect x="1086" y="893.5" width="49" height="19" fill="#f58a58"/>
<text x="1153" y="911.5" font-size="32" fill="#333" stroke="#333" stroke-width="0.25">0.0908 -0.2518</text>
<rect x="1086" y="933.5" width="49" height="19" fill="#d81e14"/>
<text x="1153" y="951.5" font-size="32" fill="#333" stroke="#333" stroke-width="0.25">0.2519 -0.3825</text>
</g>
<g transform="translate(1350 2069)">
<rect x="50" y="50" width="1350" height="945" fill="#fff" stroke="#dadada" stroke-width="9"/>
<g transform="translate(3 3)">
<g stroke-width="6" stroke-linejoin="round">
<use href="#rHUZ" fill="#94aabe" stroke="#94aabe"/>
<use href="#rJX" fill="#ffffc1" stroke="#ffffc1"/>
<use href="#rHGZ" fill="#f4956b" stroke="#f4956b"/>
<use href="#rSX" fill="#d62f27" stroke="#d62f27"/>
<use href="#rNB" fill="#3b6fb8" stroke="#3b6fb8"/>
<use href="#rQZ" fill="#f4956b" stroke="#f4956b"/>
<use href="#rJH" fill="#f4956b" stroke="#f4956b"/>
<use href="#rTZ" fill="#f4956b" stroke="#f4956b"/>
<use href="#rLS" fill="#94aabe" stroke="#94aabe"/>
<use href="#rWZ" fill="#3b6fb8" stroke="#3b6fb8"/>
</g><g>
<use href="#rHUZ" fill="#94aabe"/>
<use href="#rJX" fill="#ffffc1"/>
<use href="#rHGZ" fill="#f4956b"/>
<use href="#rSX" fill="#d62f27"/>
<use href="#rNB" fill="#3b6fb8"/>
<use href="#rQZ" fill="#f4956b"/>
<use href="#rJH" fill="#f4956b"/>
<use href="#rTZ" fill="#f4956b"/>
<use href="#rLS" fill="#94aabe"/>
<use href="#rWZ" fill="#3b6fb8"/>
</g>
<use href="#iZS" fill="#3b6fb8"/>
<use href="#iNB" fill="#3b6fb8"/>
<use href="#iTZ" fill="#f4956b"/>
<use href="#iWZ" fill="#3b6fb8"/>
</g>
<g>
<path d="M229,125 L202,207 L231,172 Z" fill="#111" stroke="#111" stroke-width="2"/>
<path d="M229,125 L254,206 L229,178 Z" fill="#fff" stroke="#111" stroke-width="3"/>
<text x="229" y="110" font-size="34" font-weight="bold" text-anchor="middle" fill="#000">N</text>
<path d="M111,229 V224 H160 V233 H206 V224 H305 V231" fill="none" stroke="#555" stroke-width="4"/>
<g font-size="28" fill="#111" stroke="#111" stroke-width="0.8" text-anchor="middle"><text x="111" y="273">0</text><text x="160" y="273">25</text><text x="206" y="273">50</text><text x="317" y="273">100</text><text x="335" y="238" font-size="22">km</text></g>
</g>
<g font-size="45" fill="#000" stroke="#000" stroke-width="1.0" text-anchor="middle">
<text x="637" y="195.7">HUZ</text>
<text x="806" y="232.7">JX</text>
<text x="553" y="369.7">HGZ</text>
<text x="765" y="422.7">SX</text>
<text x="918" y="406.7">NB</text>
<text x="1055" y="354.7">ZS</text>
<text x="398" y="587.7">QZ</text>
<text x="629" y="545.7">JH</text>
<text x="855" y="623.7">TZ</text>
<text x="544" y="748.7">LS</text>
<text x="742" y="812.7">WZ</text>
</g>
<text x="99" y="949" font-size="56" fill="#111" stroke="#111" stroke-width="0.8">(h) 2015</text>
<g fill="#111"><text x="1087" y="704" font-size="36" font-weight="bold" stroke="#111" stroke-width="0.8">Legend</text><text x="1087" y="753" font-size="32" font-weight="bold" stroke="#111" stroke-width="0.8">IS Coeffi</text></g>
<rect x="1086" y="771.5" width="49" height="19" fill="#2f62b0"/>
<text x="1153" y="789.5" font-size="32" fill="#333" stroke="#333" stroke-width="0.25">-0.5240 - -0.4172</text>
<rect x="1086" y="810.5" width="49" height="19" fill="#8fa3ba"/>
<text x="1153" y="828.5" font-size="32" fill="#333" stroke="#333" stroke-width="0.25">-0.4171 -0.0056</text>
<rect x="1086" y="853.5" width="49" height="19" fill="#ffffb8"/>
<text x="1153" y="871.5" font-size="32" fill="#333" stroke="#333" stroke-width="0.25">0.0057 -0.0601</text>
<rect x="1086" y="893.5" width="49" height="19" fill="#f58a58"/>
<text x="1153" y="911.5" font-size="32" fill="#333" stroke="#333" stroke-width="0.25">0.0602 -0.2409</text>
<rect x="1086" y="933.5" width="49" height="19" fill="#d81e14"/>
<text x="1153" y="951.5" font-size="32" fill="#333" stroke="#333" stroke-width="0.25">0.2410 -0.4078</text>
</g>
<g transform="translate(2700 2069)">
<rect x="50" y="50" width="1350" height="945" fill="#fff" stroke="#dadada" stroke-width="9"/>
<g transform="translate(3 3)">
<g stroke-width="6" stroke-linejoin="round">
<use href="#rHUZ" fill="#94aabe" stroke="#94aabe"/>
<use href="#rJX" fill="#94aabe" stroke="#94aabe"/>
<use href="#rHGZ" fill="#f4956b" stroke="#f4956b"/>
<use href="#rSX" fill="#d62f27" stroke="#d62f27"/>
<use href="#rNB" fill="#3b6fb8" stroke="#3b6fb8"/>
<use href="#rQZ" fill="#f4956b" stroke="#f4956b"/>
<use href="#rJH" fill="#f4956b" stroke="#f4956b"/>
<use href="#rTZ" fill="#ffffc1" stroke="#ffffc1"/>
<use href="#rLS" fill="#94aabe" stroke="#94aabe"/>
<use href="#rWZ" fill="#3b6fb8" stroke="#3b6fb8"/>
</g><g>
<use href="#rHUZ" fill="#94aabe"/>
<use href="#rJX" fill="#94aabe"/>
<use href="#rHGZ" fill="#f4956b"/>
<use href="#rSX" fill="#d62f27"/>
<use href="#rNB" fill="#3b6fb8"/>
<use href="#rQZ" fill="#f4956b"/>
<use href="#rJH" fill="#f4956b"/>
<use href="#rTZ" fill="#ffffc1"/>
<use href="#rLS" fill="#94aabe"/>
<use href="#rWZ" fill="#3b6fb8"/>
</g>
<use href="#iZS" fill="#3b6fb8"/>
<use href="#iNB" fill="#3b6fb8"/>
<use href="#iTZ" fill="#ffffc1"/>
<use href="#iWZ" fill="#3b6fb8"/>
</g>
<g>
<path d="M229,125 L202,207 L231,172 Z" fill="#111" stroke="#111" stroke-width="2"/>
<path d="M229,125 L254,206 L229,178 Z" fill="#fff" stroke="#111" stroke-width="3"/>
<text x="229" y="110" font-size="34" font-weight="bold" text-anchor="middle" fill="#000">N</text>
<path d="M111,229 V224 H160 V233 H206 V224 H305 V231" fill="none" stroke="#555" stroke-width="4"/>
<g font-size="28" fill="#111" stroke="#111" stroke-width="0.8" text-anchor="middle"><text x="111" y="273">0</text><text x="160" y="273">25</text><text x="206" y="273">50</text><text x="317" y="273">100</text><text x="335" y="238" font-size="22">km</text></g>
</g>
<g font-size="45" fill="#000" stroke="#000" stroke-width="1.0" text-anchor="middle">
<text x="637" y="195.7">HUZ</text>
<text x="806" y="232.7">JX</text>
<text x="553" y="369.7">HGZ</text>
<text x="765" y="422.7">SX</text>
<text x="918" y="406.7">NB</text>
<text x="1055" y="354.7">ZS</text>
<text x="398" y="587.7">QZ</text>
<text x="629" y="545.7">JH</text>
<text x="855" y="623.7">TZ</text>
<text x="544" y="748.7">LS</text>
<text x="742" y="812.7">WZ</text>
</g>
<text x="99" y="949" font-size="56" fill="#111" stroke="#111" stroke-width="0.8">(i) 2017</text>
<g fill="#111"><text x="1087" y="704" font-size="36" font-weight="bold" stroke="#111" stroke-width="0.8">Legend</text><text x="1087" y="753" font-size="32" font-weight="bold" stroke="#111" stroke-width="0.8">IS Coeffi</text></g>
<rect x="1086" y="771.5" width="49" height="19" fill="#2f62b0"/>
<text x="1153" y="789.5" font-size="32" fill="#333" stroke="#333" stroke-width="0.25">-0.5990 - -0.4944</text>
<rect x="1086" y="810.5" width="49" height="19" fill="#8fa3ba"/>
<text x="1153" y="828.5" font-size="32" fill="#333" stroke="#333" stroke-width="0.25">-0.4943 - -0.0246</text>
<rect x="1086" y="853.5" width="49" height="19" fill="#ffffb8"/>
<text x="1153" y="871.5" font-size="32" fill="#333" stroke="#333" stroke-width="0.25">-0.0245 -0.0606</text>
<rect x="1086" y="893.5" width="49" height="19" fill="#f58a58"/>
<text x="1153" y="911.5" font-size="32" fill="#333" stroke="#333" stroke-width="0.25">0.0607 -0.2551</text>
<rect x="1086" y="933.5" width="49" height="19" fill="#d81e14"/>
<text x="1153" y="951.5" font-size="32" fill="#333" stroke="#333" stroke-width="0.25">0.2552 -0.3677</text>
</g>
<g transform="translate(4050 2069)">
<rect x="50" y="50" width="1350" height="945" fill="#fff" stroke="#dadada" stroke-width="9"/>
<g transform="translate(3 3)">
<g stroke-width="6" stroke-linejoin="round">
<use href="#rHUZ" fill="#ffffc1" stroke="#ffffc1"/>
<use href="#rJX" fill="#94aabe" stroke="#94aabe"/>
<use href="#rHGZ" fill="#f4956b" stroke="#f4956b"/>
<use href="#rSX" fill="#d62f27" stroke="#d62f27"/>
<use href="#rNB" fill="#3b6fb8" stroke="#3b6fb8"/>
<use href="#rQZ" fill="#d62f27" stroke="#d62f27"/>
<use href="#rJH" fill="#d62f27" stroke="#d62f27"/>
<use href="#rTZ" fill="#ffffc1" stroke="#ffffc1"/>
<use href="#rLS" fill="#94aabe" stroke="#94aabe"/>
<use href="#rWZ" fill="#3b6fb8" stroke="#3b6fb8"/>
</g><g>
<use href="#rHUZ" fill="#ffffc1"/>
<use href="#rJX" fill="#94aabe"/>
<use href="#rHGZ" fill="#f4956b"/>
<use href="#rSX" fill="#d62f27"/>
<use href="#rNB" fill="#3b6fb8"/>
<use href="#rQZ" fill="#d62f27"/>
<use href="#rJH" fill="#d62f27"/>
<use href="#rTZ" fill="#ffffc1"/>
<use href="#rLS" fill="#94aabe"/>
<use href="#rWZ" fill="#3b6fb8"/>
</g>
<use href="#iZS" fill="#3b6fb8"/>
<use href="#iNB" fill="#3b6fb8"/>
<use href="#iTZ" fill="#ffffc1"/>
<use href="#iWZ" fill="#3b6fb8"/>
</g>
<g>
<path d="M229,125 L202,207 L231,172 Z" fill="#111" stroke="#111" stroke-width="2"/>
<path d="M229,125 L254,206 L229,178 Z" fill="#fff" stroke="#111" stroke-width="3"/>
<text x="229" y="110" font-size="34" font-weight="bold" text-anchor="middle" fill="#000">N</text>
<path d="M111,229 V224 H160 V233 H206 V224 H305 V231" fill="none" stroke="#555" stroke-width="4"/>
<g font-size="28" fill="#111" stroke="#111" stroke-width="0.8" text-anchor="middle"><text x="111" y="273">0</text><text x="160" y="273">25</text><text x="206" y="273">50</text><text x="317" y="273">100</text><text x="335" y="238" font-size="22">km</text></g>
</g>
<g font-size="45" fill="#000" stroke="#000" stroke-width="1.0" text-anchor="middle">
<text x="637" y="195.7">HUZ</text>
<text x="806" y="232.7">JX</text>
<text x="553" y="369.7">HGZ</text>
<text x="765" y="422.7">SX</text>
<text x="918" y="406.7">NB</text>
<text x="1055" y="354.7">ZS</text>
<text x="398" y="587.7">QZ</text>
<text x="629" y="545.7">JH</text>
<text x="855" y="623.7">TZ</text>
<text x="544" y="748.7">LS</text>
<text x="742" y="812.7">WZ</text>
</g>
<text x="99" y="949" font-size="56" fill="#111" stroke="#111" stroke-width="0.8">(j) 2019</text>
<g fill="#111"><text x="1087" y="704" font-size="36" font-weight="bold" stroke="#111" stroke-width="0.8">Legend</text><text x="1087" y="753" font-size="32" font-weight="bold" stroke="#111" stroke-width="0.8">IS Coeffi</text></g>
<rect x="1086" y="771.5" width="49" height="19" fill="#2f62b0"/>
<text x="1153" y="789.5" font-size="32" fill="#333" stroke="#333" stroke-width="0.25">-0.7154 - -0.5193</text>
<rect x="1086" y="810.5" width="49" height="19" fill="#8fa3ba"/>
<text x="1153" y="828.5" font-size="32" fill="#333" stroke="#333" stroke-width="0.25">-0.5192 - -0.1352</text>
<rect x="1086" y="853.5" width="49" height="19" fill="#ffffb8"/>
<text x="1153" y="871.5" font-size="32" fill="#333" stroke="#333" stroke-width="0.25">-0.1351 - -0.0538</text>
<rect x="1086" y="893.5" width="49" height="19" fill="#f58a58"/>
<text x="1153" y="911.5" font-size="32" fill="#333" stroke="#333" stroke-width="0.25">-0.0537 -0.1567</text>
<rect x="1086" y="933.5" width="49" height="19" fill="#d81e14"/>
<text x="1153" y="951.5" font-size="32" fill="#333" stroke="#333" stroke-width="0.25">0.1568 -0.3497</text>
</g>
</svg></body></html>
